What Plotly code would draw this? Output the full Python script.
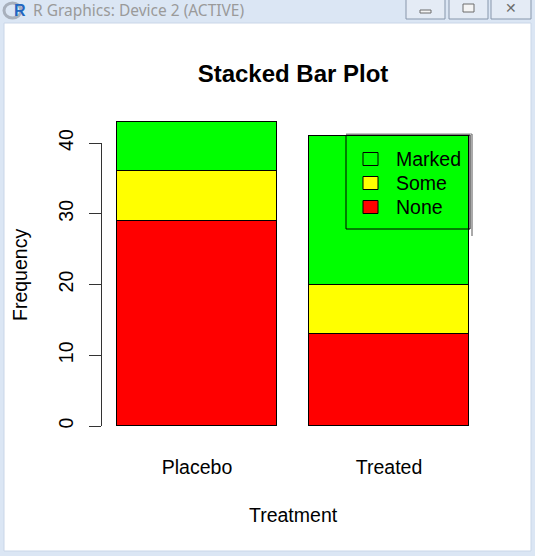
import plotly.graph_objects as go

# data (Arthritis: Improved by Treatment)
treatments = ["Placebo", "Treated"]
levels = ["None", "Some", "Marked"]
none_counts = [29, 13]
some_counts = [7, 7]
marked_counts = [7, 21]
colors = {"None": "red", "Some": "yellow", "Marked": "#00ff00"}

W, H = 535, 556
# plot region in pixels
L, R, T, B = 102, 483, 111, 438
bar_pos = [0.7, 1.9]
x_lo = 0.2 - (117 - L) / 160.0
x_hi = x_lo + (R - L) / 160.0
y_lo = -(B - 426) / 7.075
y_hi = (426 - T) / 7.075


def px(x):
    return (x - L) / (R - L)


def py(y):
    return (B - y) / (B - T)


def label(x, y, text, size=19.5, color="black", family=None, xanchor="center", **kw):
    return dict(x=px(x), y=py(y), xref="paper", yref="paper", text=text, showarrow=False,
                xanchor=xanchor, yanchor="middle",
                font=dict(family=family or FONT, size=size, color=color), **kw)


FONT = "Liberation Sans, Arial, sans-serif"

fig = go.Figure()
for name, vals in zip(levels, [none_counts, some_counts, marked_counts]):
    fig.add_trace(go.Bar(x=bar_pos, y=vals, width=1, name=name,
                         marker=dict(color=colors[name], line=dict(color="black", width=1)),
                         showlegend=False))

shapes = []
annotations = []

# window chrome
shapes.append(dict(type="rect", xref="paper", yref="paper", layer="below",
                   x0=px(4), x1=px(531), y0=py(551), y1=py(23),
                   fillcolor="white", line=dict(color="#c9d6e8", width=1)))
for bx0, bx1 in [(406, 445), (449, 488), (491, 531)]:
    shapes.append(dict(type="rect", xref="paper", yref="paper",
                       x0=px(bx0), x1=px(bx1), y0=py(19), y1=py(-2),
                       fillcolor="#e4ebf5", line=dict(color="#8796ab", width=1)))
# minimize / maximize / close glyphs
shapes.append(dict(type="rect", xref="paper", yref="paper", x0=px(420), x1=px(431), y0=py(13), y1=py(10),
                   fillcolor="#f4f4f4", line=dict(color="#6d6d6d", width=1)))
shapes.append(dict(type="rect", xref="paper", yref="paper", x0=px(463), x1=px(474), y0=py(12), y1=py(4),
                   fillcolor="#f4f4f4", line=dict(color="#6d6d6d", width=1)))
annotations.append(label(511, 8, "✕", size=14, color="#6d6d6d", family="DejaVu Sans"))
# R icon: grey ring + blue R
shapes.append(dict(type="circle", xref="paper", yref="paper", x0=px(4), x1=px(21), y0=py(18), y1=py(3),
                   fillcolor="rgba(0,0,0,0)", line=dict(color="#a8b0bc", width=3)))
annotations.append(label(20, 11, "<b>R</b>", size=16, color="#2266c0"))
annotations.append(label(31, 10, "R Graphics: Device 2 (ACTIVE)", size=15.5, color="#9a9a9a",
                         family="Noto Sans", xanchor="left"))

# y axis line from 0 to 40, like R's axis()
shapes.append(dict(type="line", xref="paper", yref="y", x0=px(101.5), x1=px(101.5), y0=0, y1=40,
                   line=dict(color="#333333", width=1)))

# legend
lx0, lx1, ly0, ly1 = 346, 470, 135, 229
shapes.append(dict(type="rect", xref="paper", yref="paper", x0=px(lx0), x1=px(lx1), y0=py(ly1), y1=py(ly0),
                   line=dict(color="black", width=1)))
shapes.append(dict(type="line", xref="paper", yref="paper", x0=px(346), x1=px(472), y0=py(134), y1=py(134),
                   line=dict(color="#888888", width=1)))
shapes.append(dict(type="line", xref="paper", yref="paper", x0=px(472), x1=px(472), y0=py(236), y1=py(134),
                   line=dict(color="#555555", width=1)))
for i, name in enumerate(reversed(levels)):
    cy = 159 + 24 * i
    shapes.append(dict(type="rect", xref="paper", yref="paper", x0=px(363), x1=px(378),
                       y0=py(cy + 6.5), y1=py(cy - 6.5),
                       fillcolor=colors[name], line=dict(color="black", width=1)))
    annotations.append(label(394, cy, name, xanchor="left"))

# axis titles
annotations.append(label(20, 275, "Frequency", textangle=-90))
annotations.append(label(293, 515, "Treatment"))

fig.update_layout(
    width=W, height=H,
    margin=dict(l=L, r=W - R, t=T, b=H - B, pad=0),
    paper_bgcolor="#dbe6f4",
    plot_bgcolor="white",
    barmode="stack",
    bargap=0,
    title=dict(text="<b>Stacked Bar Plot</b>", x=px(293), xref="paper", y=1 - 74 / H, yanchor="middle",
               xanchor="center", font=dict(family=FONT, size=24, color="black")),
    shapes=shapes,
    annotations=annotations,
    xaxis=dict(range=[x_lo, x_hi], tickvals=bar_pos, ticktext=treatments, ticks="", showline=False,
               showgrid=False, zeroline=False, ticklabelstandoff=15,
               tickfont=dict(family=FONT, size=19.5, color="black")),
    yaxis=dict(range=[y_lo, y_hi], tickvals=[0, 10, 20, 30, 40], ticks="outside", ticklen=12,
               tickcolor="#333333", tickwidth=1, showline=False, showgrid=False, zeroline=False,
               tickangle=-90, ticklabelstandoff=8,
               tickfont=dict(family=FONT, size=19.5, color="black")),
)

fig.write_html("out.html", config={"displayModeBar": False},
               post_script="document.body.style.margin='0';document.body.style.overflow='hidden';")
